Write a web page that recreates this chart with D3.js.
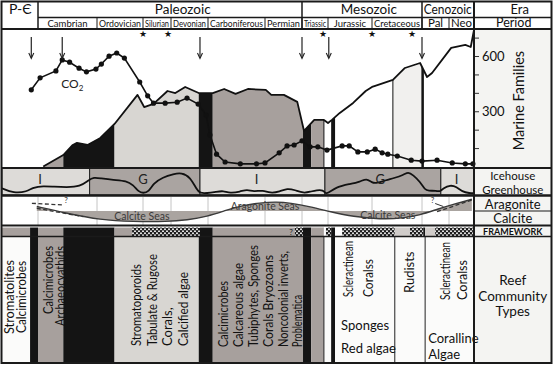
<!DOCTYPE html>
<html>
<head>
<meta charset="utf-8">
<script src="https://cdn.jsdelivr.net/npm/d3@7"></script>
<style>
  body { margin: 0; background: #fff; }
  svg { display: block; font-family: Lato, "Open Sans", sans-serif; }
</style>
</head>
<body>
<div id="chart"></div>
<script>
// ---- time frame (Ma) ----
const eraNames = ["P-Є", "Paleozoic", "Mesozoic", "Cenozoic"];
const eraBounds = [600, 541, 252, 66, 0];
const eraLabelAge = [570, 400, 149, 25];
const periodNames = ["Cambrian", "Ordovician", "Silurian", "Devonian", "Carboniferous", "Permian",
  "Triassic", "Jurassic", "Cretaceous", "Pal", "Neo"];
const periodBounds = [541, 485, 443, 419, 359, 299, 252, 201, 145, 66, 23, 0];

// ---- marine family diversity ----
const famAge = [536, 517, 508, 504, 494, 482, 469, 448, 442, 434, 422, 412, 396, 374, 354, 342, 330, 317,
  298, 291, 275, 258, 248, 228, 209, 201, 196, 186, 169, 153, 145, 140, 112, 93, 69, 58, 50, 21, 8, 3, 0];
const famCount = [0, 62, 117, 128, 117, 155, 231, 389, 323, 340, 410, 399, 432, 399, 399, 421, 394, 421,
  416, 389, 389, 351, 193, 253, 253, 236, 253, 291, 345, 410, 432, 438, 470, 535, 562, 486, 508, 644, 660, 649, 742];
const famTicks = [100, 200, 300, 400, 500, 600, 700];

// ---- CO2 (relative) ----
const co2Age = [552, 539, 524, 518, 511, 502, 495, 486, 481, 474, 467, 460, 446, 439, 434, 424, 409, 393, 375,
  362, 357, 350, 341, 325, 308, 299, 281, 271, 262, 252, 236, 221, 203, 183, 174, 163, 151, 140, 129, 120,
  105, 83, 66, 42, 20, 8, 1];
const co2Value = [17.0, 19.6, 21.1, 23.5, 23.0, 21.7, 20.9, 21.5, 22.6, 24.3, 25.0, 23.9, 18.7, 15.7, 14.1,
  14.1, 14.3, 15.2, 13.9, 11.5, 7.2, 3.0, 1.3, 0.9, 0.9, 1.1, 3.3, 4.8, 5.0, 5.9, 4.6, 4.6, 3.9, 4.8, 4.8,
  3.5, 3.5, 4.1, 3.3, 3.0, 2.6, 1.7, 1.5, 1.7, 1.1, 0.9, 0.9];

// ---- reef intervals under the diversity curve ----
const bandStart = [541, 517, 469, 374, 354, 250, 234, 209, 197, 112, 67];
const bandEnd = [517, 469, 374, 354, 250, 234, 209, 197, 192, 67, 63];
const bandType = ["brown", "black", "light", "black", "brown", "black", "brown", "white", "black", "pale", "black"];

// ---- icehouse / greenhouse ----
const climateBounds = [600, 492, 372, 207, 36, 0];
const climateMode = ["I", "G", "I", "G", "I"];
const climateLabelAge = [539, 443, 308, 132, 16];
const climateAge = [600, 581, 559, 549, 536, 526, 514, 501, 493, 488, 482, 470, 458, 452, 447, 443, 438, 434,
  426, 415, 402, 388, 377, 372, 361, 350, 343, 336, 325, 318, 311, 301, 293, 280, 271, 261, 249, 236, 223,
  210, 207, 201, 190, 173, 160, 152, 145, 138, 122, 111, 95, 88, 80, 69, 61, 56, 43, 37, 32, 22, 16, 11, 4, 0];
const climateValue = [0.23, 0.03, 0.09, 0.27, 0.32, 0.29, 0.27, 0.29, 0.56, 0.67, 0.63, 0.56, 0.53, 0.36, 0.09,
  0.03, 0.09, 0.43, 0.67, 0.8, 0.85, 0.69, 0.16, 0.03, 0.03, 0.09, 0.13, 0.03, 0.09, 0.19, 0.09, 0.16, 0.03,
  0.09, 0.23, 0.16, 0.03, 0.09, 0.16, 0.16, 0.03, 0.03, 0.29, 0.4, 0.49, 0.63, 0.45, 0.43, 0.56, 0.63, 0.76,
  0.89, 0.76, 0.49, 0.16, 0.13, 0.13, 0.09, 0.23, 0.36, 0.29, 0.09, 0.03, 0.03];

// ---- sea chemistry (+ aragonite, - calcite) ----
const seaAge = [543, 514, 482, 452, 422, 393, 361, 339, 325, 304, 284, 267, 236, 198, 169, 132, 96, 69, 42, 16, 2];
const seaValue = [0.45, -0.23, -0.9, -1.07, -1.07, -0.9, -0.57, 0.1, 0.5, 0.83, 0.93, 0.8, 0.43, -0.07, -0.57,
  -0.83, -0.73, -0.4, 0.17, 0.77, 1.17];
const seaLabels = ["Calcite Seas", "Aragonite Seas", "Calcite Seas"];
const seaLabelAge = [444, 299, 120];
const seaLabelValue = [-0.55, 0.45, -0.4];

// ---- framework row ----
const fwStart = [600, 554, 541, 517, 469, 453, 372, 354, 261, 250, 234, 209, 205, 197, 192, 183, 109, 85, 64, 61, 45];
const fwEnd = [554, 541, 517, 469, 453, 372, 354, 261, 250, 234, 209, 205, 197, 192, 183, 109, 85, 64, 61, 45, 1];
const fwType = ["brown", "black", "brown", "black", "brown", "reef", "black", "brown", "reef", "black", "brown",
  "white", "reef", "black", "white", "reef", "grey", "reef", "black", "grey", "reef"];

// ---- reef community row ----
const reefStart = [600, 554, 541, 517, 469, 374, 354, 250, 234, 209, 197, 192];
const reefEnd = [554, 541, 517, 469, 374, 354, 250, 234, 209, 197, 192, 0];
const reefType = ["white", "black", "brown", "black", "light", "black", "brown", "black", "brown", "white", "black", "white"];
const reefDividers = [209, 109, 61];

const arrowAge = [552, 518, 372, 252, 200, 66];
const starAge = [443, 422, 210, 145, 82];

// ---- layout ----
const W = 553, H = 365;
const xL = 1.5, xR = 474, xE = 551.5;
const yTop = 1.5, yEra = 17.5, yPer = 29, yPlot = 168, yIce = 195, yArag = 197, yMid = 211,
  yCalc = 225.5, yFw = 236.5, yBot = 363;

const fills = {
  black: "#141414", brown: "#a7a09d", light: "#d8d6d2", white: "#ffffff",
  pale: "#f1f0ee", grey: "#d0ccc9", reef: "url(#checker)"
};

const x = d3.scaleLinear()
  .domain([600].concat(periodBounds))
  .range([2, 38, 97, 143, 171, 208, 265, 302, 328, 372, 422, 449, 474]);
const yFam = d3.scaleLinear().domain([0, 700]).range([166.5, 37.6]);
const yCo2 = d3.scaleLinear().domain([0, 25]).range([168, 53]);
const yClim = d3.scaleLinear().domain([0, 1]).range([194, 169]);
const ySea = d3.scaleLinear().domain([-1, 1]).range([221, 201]);

const svg = d3.select("#chart").append("svg").attr("width", W).attr("height", H);
const defs = svg.append("defs");
const pat = defs.append("pattern").attr("id", "checker")
  .attr("width", 4).attr("height", 4).attr("patternUnits", "userSpaceOnUse");
pat.append("rect").attr("width", 4).attr("height", 4).attr("fill", "#1c1c1c");
pat.append("circle").attr("cx", 1).attr("cy", 1.2).attr("r", 0.95).attr("fill", "#fff");
pat.append("circle").attr("cx", 3).attr("cy", 3.2).attr("r", 0.95).attr("fill", "#fff");

// right column background
svg.append("rect").attr("x", xR).attr("y", yPer).attr("width", xE - xR).attr("height", yBot - yPer).attr("fill", "#f4f4f2");

// ---- plot: reef bands clipped under diversity ----
const famData = famAge.map((a, i) => ({ age: a, n: famCount[i] }));
const famArea = d3.area().x(d => x(d.age)).y0(yPlot).y1(d => yFam(d.n));
defs.append("clipPath").attr("id", "under").append("path").attr("d", famArea(famData));

const plot = svg.append("g");
plot.selectAll("rect.band").data(d3.range(bandStart.length)).join("rect")
  .attr("x", i => x(bandStart[i])).attr("width", i => x(bandEnd[i]) - x(bandStart[i]))
  .attr("y", yPer).attr("height", yPlot - yPer)
  .attr("fill", i => fills[bandType[i]]).attr("clip-path", "url(#under)");
plot.selectAll("line.edge").data(d3.range(bandStart.length).filter(i => bandType[i] === "white" || bandType[i] === "pale"))
  .join("line")
  .attr("x1", i => x(bandStart[i])).attr("x2", i => x(bandStart[i]))
  .attr("y1", yPer).attr("y2", yPlot)
  .attr("stroke", "#111").attr("stroke-width", 1).attr("clip-path", "url(#under)");

plot.append("path").datum(famData)
  .attr("d", d3.line().x(d => x(d.age)).y(d => yFam(d.n)))
  .attr("fill", "none").attr("stroke", "#111").attr("stroke-width", 1.8).attr("stroke-linejoin", "round");

// CO2
const co2Data = co2Age.map((a, i) => ({ age: a, v: co2Value[i] }));
plot.append("path").datum(co2Data)
  .attr("d", d3.line().x(d => x(d.age)).y(d => yCo2(d.v)))
  .attr("fill", "none").attr("stroke", "#111").attr("stroke-width", 1.6);
plot.selectAll("circle.co2").data(co2Data).join("circle")
  .attr("cx", d => x(d.age)).attr("cy", d => yCo2(d.v)).attr("r", 2.6).attr("fill", "#111");
const co2Label = plot.append("text").attr("x", x(519)).attr("y", 88)
  .attr("font-size", 12).attr("fill", "#222").text("CO");
co2Label.append("tspan").attr("font-size", 8).attr("dy", 3).text("2");

// arrows
arrowAge.forEach(a => {
  const ax = x(a);
  plot.append("line").attr("x1", ax).attr("x2", ax).attr("y1", 37).attr("y2", 58)
    .attr("stroke", "#222").attr("stroke-width", 1.2);
  plot.append("path").attr("d", `M${ax - 2.5},53 L${ax},58.5 L${ax + 2.5},53`)
    .attr("fill", "none").attr("stroke", "#222").attr("stroke-width", 1.1);
});
// stars
plot.selectAll("text.star").data(starAge).join("text")
  .attr("x", d => x(d)).attr("y", 36.5).attr("text-anchor", "middle")
  .attr("font-size", 9).attr("fill", "#111").text("★");

// right axis (marine families)
const axis = svg.append("g").attr("transform", `translate(${xR},0)`)
  .call(d3.axisRight(yFam).tickValues(famTicks).tickSize(5).tickPadding(3)
    .tickFormat(d => (d === 600 || d === 300) ? d : ""));
axis.select(".domain").remove();
axis.selectAll("line").attr("stroke", "#333");
axis.selectAll("text").attr("font-size", 13).attr("font-family", "Lato, sans-serif").attr("fill", "#111");
svg.append("text").attr("transform", `translate(519,${(yPer + yPlot) / 2 + 2}) rotate(-90)`)
  .attr("text-anchor", "middle").attr("dy", "0.35em").attr("font-size", 14.5).attr("fill", "#111")
  .text("Marine Families");

// ---- icehouse / greenhouse row ----
const ice = svg.append("g");
ice.selectAll("rect").data(climateMode).join("rect")
  .attr("x", (d, i) => x(climateBounds[i])).attr("width", (d, i) => x(climateBounds[i + 1]) - x(climateBounds[i]))
  .attr("y", yPlot).attr("height", yIce - yPlot)
  .attr("fill", d => d === "I" ? "#dddbd8" : "#aaa4a1")
  .attr("stroke", "#222").attr("stroke-width", 1);
const climData = climateAge.map((a, i) => ({ age: a, v: climateValue[i] }));
ice.append("path").datum(climData)
  .attr("d", d3.line().x(d => x(d.age)).y(d => yClim(d.v)).curve(d3.curveBasis))
  .attr("fill", "none").attr("stroke", "#111").attr("stroke-width", 1.8);
ice.selectAll("text").data(climateMode).join("text")
  .attr("x", (d, i) => x(climateLabelAge[i])).attr("y", 184).attr("text-anchor", "middle")
  .attr("font-size", 13).attr("fill", "#222").text(d => d);

// ---- aragonite / calcite rows ----
const sea = svg.append("g");
sea.selectAll("line.grid").data(periodBounds.slice(0, -1)).join("line")
  .attr("x1", d => x(d)).attr("x2", d => x(d)).attr("y1", yArag).attr("y2", yCalc)
  .attr("stroke", "#c4c4c4").attr("stroke-width", 1);
const seaData = seaAge.map((a, i) => ({ age: a, v: seaValue[i] }));
sea.append("path").datum(seaData)
  .attr("d", d3.area().x(d => x(d.age)).y0(ySea(0)).y1(d => ySea(d.v)).curve(d3.curveBasis))
  .attr("fill", "#aaa4a0");
sea.append("path").datum(seaData)
  .attr("d", d3.line().x(d => x(d.age)).y(d => ySea(d.v)).curve(d3.curveBasis))
  .attr("fill", "none").attr("stroke", "#3a3a3a").attr("stroke-width", 1.4);
sea.selectAll("text.sl").data(seaLabels).join("text")
  .attr("x", (d, i) => x(seaLabelAge[i])).attr("y", (d, i) => ySea(seaLabelValue[i]) + 3.5)
  .attr("text-anchor", "middle").attr("font-size", 10.5).attr("fill", "#3a3a3a").text(d => d);
// uncertain ends
const dashLine = d3.line().x(d => x(d[0])).y(d => ySea(d[1]));
[[[551, 0.77], [517, 0.6]], [[543, 0.27], [498, -0.57]], [[42, -0.07], [2, 1.1]]].forEach(seg => {
  sea.append("path").attr("d", dashLine(seg)).attr("fill", "none")
    .attr("stroke", "#333").attr("stroke-width", 1.3).attr("stroke-dasharray", "4,2.5");
});
sea.append("path").attr("d", dashLine([[45, 0.75], [32, 0.45]])).attr("stroke", "#333").attr("stroke-width", 1);
sea.append("text").attr("x", x(516)).attr("y", ySea(0.85)).attr("font-size", 8).attr("fill", "#333").text("?");
sea.append("text").attr("x", x(52)).attr("y", ySea(0.85)).attr("font-size", 8).attr("fill", "#333").text("?");

// ---- framework row ----
const fw = svg.append("g");
fw.selectAll("rect").data(d3.range(fwStart.length)).join("rect")
  .attr("x", i => x(fwStart[i])).attr("width", i => x(fwEnd[i]) - x(fwStart[i]))
  .attr("y", yCalc + 2).attr("height", yFw - yCalc - 2.5)
  .attr("fill", i => fills[fwType[i]]);
fw.append("text").attr("x", x(266)).attr("y", yFw - 2).attr("text-anchor", "middle")
  .attr("font-size", 8).attr("fill", "#222").text("?");

// ---- reef community row ----
const reef = svg.append("g");
reef.selectAll("rect").data(d3.range(reefStart.length)).join("rect")
  .attr("x", i => x(reefStart[i])).attr("width", i => x(reefEnd[i]) - x(reefStart[i]))
  .attr("y", yFw).attr("height", yBot - yFw)
  .attr("fill", i => reefType[i] === "white" ? "#fbfbfa" : fills[reefType[i]]);
reef.selectAll("line").data(reefDividers).join("line")
  .attr("x1", d => x(d)).attr("x2", d => x(d)).attr("y1", yFw).attr("y2", yBot)
  .attr("stroke", "#222").attr("stroke-width", 1);

function vtext(str, cx, y, anchor, size, fit) {
  const t = reef.append("text").attr("transform", `translate(${cx},${y}) rotate(-90)`)
    .attr("text-anchor", anchor).attr("dy", "0.35em").attr("font-size", size).attr("fill", "#111").text(str);
  if (fit && t.node().getComputedTextLength() > fit) {
    t.attr("textLength", fit).attr("lengthAdjust", "spacingAndGlyphs");
  }
}
function htext(str, xx, y, size) {
  reef.append("text").attr("x", xx).attr("y", y).attr("font-size", size).attr("fill", "#111").text(str);
}
const fs = 13;
vtext("Stromatolites", x(588), 297, "middle", fs, 74);
vtext("Calcimicrobes", x(570) + 1, 297, "middle", fs, 72);
vtext("Calcimicrobes", x(531), 246, "end", fs, 68);
vtext("Archaeocyathids", x(520), 246, "end", fs, 80);
["Stromatoporoids", "Tabulate & Rugose", "Corals,", "Calcified algae"].forEach((s, i) =>
  vtext(s, x(469) + 22 + i * 15.5, 346, "start", fs, [82, 92, 60, 74][i]));
["Calcimicrobes", "Calcareous algae", "Tubiphytes, Sponges", "Corals Bryozoans", "Noncolonial  inverts,", "Problematica"]
  .forEach((s, i) => vtext(s, x(354) + 11 + i * 14.8, 347, "start", fs, [66, 84, 102, 92, 96, 52][i]));
vtext("Scleractinean", x(192) + 13, 297, "start", fs, 56);
vtext("Coralss", x(192) + 33, 297, "start", fs, 38);
vtext("Rudists", x(86), 293, "start", fs, 48);
vtext("Scleractinean", x(61) + 20, 300, "start", fs, 58);
vtext("Coralss", x(61) + 37, 300, "start", fs, 40);
htext("Sponges", x(192) + 6, 330, fs);
htext("Red algae", x(192) + 6, 353, fs);
htext("Coralline", x(61) + 3, 343, fs);
htext("Algae", x(61) + 3, 359, fs);

// ---- header: eras and periods ----
const head = svg.append("g");
eraNames.forEach((n, i) => {
  const t = head.append("text").attr("x", x(eraLabelAge[i])).attr("y", 13.5).attr("text-anchor", "middle")
    .attr("font-size", i === 0 ? 14 : 13.5).attr("fill", "#111").text(n);
  const maxW = x(eraBounds[i + 1]) - x(eraBounds[i]) - 4;
  if (t.node().getComputedTextLength() > maxW) t.attr("textLength", maxW).attr("lengthAdjust", "spacingAndGlyphs");
});
periodNames.forEach((n, i) => {
  const a = x(periodBounds[i]), b = x(periodBounds[i + 1]);
  const size = (n === "Pal" || n === "Neo") ? 11.5 : 9.5;
  const t = head.append("text").attr("x", (a + b) / 2).attr("y", 26.8).attr("text-anchor", "middle")
    .attr("font-size", size).attr("fill", "#111").text(n);
  const maxW = b - a - 4;
  if (t.node().getComputedTextLength() > maxW) t.attr("textLength", maxW).attr("lengthAdjust", "spacingAndGlyphs");
});

// right column labels
const rc = svg.append("g").attr("text-anchor", "middle").attr("fill", "#111");
const rcx = (xR + xE) / 2;
rc.append("text").attr("x", rcx + 7).attr("y", 13.5).attr("font-size", 13).text("Era");
rc.append("text").attr("x", rcx + 1).attr("y", 27.3).attr("font-size", 12.5).text("Period");
rc.append("text").attr("x", rcx).attr("y", 179.5).attr("font-size", 11.5).text("Icehouse");
rc.append("text").attr("x", rcx).attr("y", 194).attr("font-size", 11.5).text("Greenhouse");
rc.append("text").attr("x", rcx).attr("y", 208.5).attr("font-size", 13).text("Aragonite");
rc.append("text").attr("x", rcx).attr("y", 223).attr("font-size", 13).text("Calcite");
rc.append("text").attr("x", rcx).attr("y", 234.5).attr("font-size", 9).attr("font-weight", "bold").text("FRAMEWORK");
["Reef", "Community", "Types"].forEach((s, i) =>
  rc.append("text").attr("x", rcx).attr("y", 285 + i * 15.5).attr("font-size", 13.5).text(s));

// ---- grid lines / borders ----
const ln = svg.append("g").attr("stroke", "#1a1a1a").attr("fill", "none");
function hl(y, x1, x2, w) { ln.append("line").attr("x1", x1).attr("x2", x2).attr("y1", y).attr("y2", y).attr("stroke-width", w); }
function vl(xx, y1, y2, w) { ln.append("line").attr("x1", xx).attr("x2", xx).attr("y1", y1).attr("y2", y2).attr("stroke-width", w); }
ln.append("rect").attr("x", xL).attr("y", yTop).attr("width", xE - xL).attr("height", yBot - yTop).attr("stroke-width", 2);
hl(yEra, x(541), xE, 1.5);
hl(yPer, xL, xE, 2);
hl(yPlot, xL, xE, 2);
hl(yIce + 0.5, xL, xE, 2.5);
hl(yMid, xR, xE, 1.2);
hl(yCalc, xL, xE, 2);
hl(yFw, xL, xE, 1.5);
vl(xR, yTop, yBot, 2);
eraBounds.slice(1, -1).forEach(b => vl(x(b), yTop, yPer, 1.5));
periodBounds.slice(1, -1).forEach(b => vl(x(b), yEra, yPer, 1));
</script>
</body>
</html>
